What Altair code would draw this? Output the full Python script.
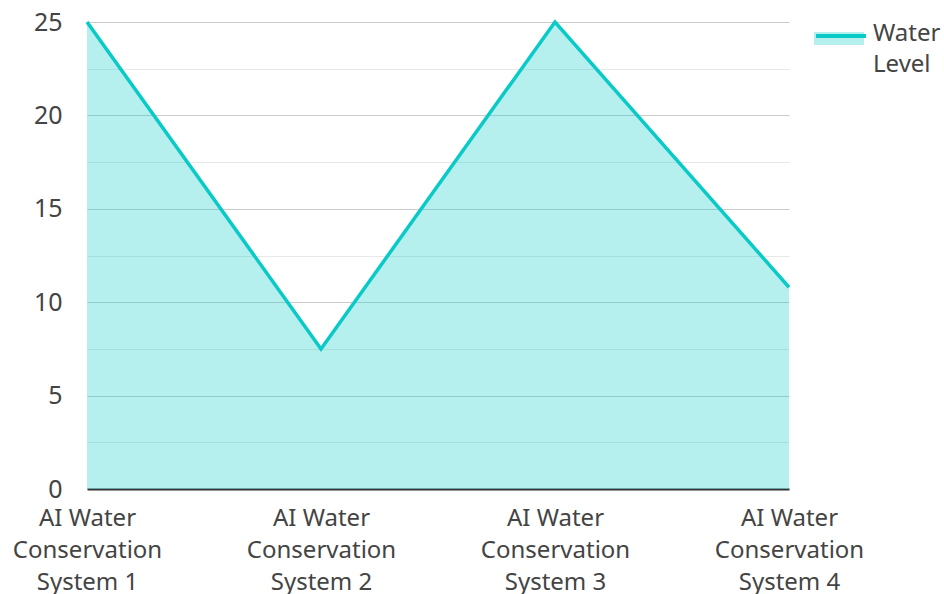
import altair as alt
import pandas as pd

categories = [
    "AI Water Conservation System 1",
    "AI Water Conservation System 2",
    "AI Water Conservation System 3",
    "AI Water Conservation System 4",
]
values = [25, 7.5, 25, 10.8]
series = ["Water Level"] * 4
y_ticks = [0, 2.5, 5, 7.5, 10, 12.5, 15, 17.5, 20, 22.5, 25]

df = pd.DataFrame({"system": categories, "value": values, "series": series})

FONT = "Noto Sans"
TEAL = "#0ACAC8"
TEXT = "#444444"

x_enc = alt.X(
    "system:N",
    sort=categories,
    scale=alt.Scale(type="point", padding=0),
    axis=alt.Axis(
        title=None,
        labelAngle=0,
        labelFont=FONT,
        labelFontSize=24,
        labelColor=TEXT,
        labelLineHeight=32,
        labelBaseline="top",
        labelPadding=17,
        labelExpr="[slice(datum.label,0,8), slice(datum.label,9,21), slice(datum.label,22)]",
        ticks=False,
        domainColor="#333333",
        domainWidth=2,
        grid=False,
        labelOverlap=False,
        labelLimit=300,
    ),
)

y_enc = alt.Y(
    "value:Q",
    scale=alt.Scale(domain=[0, 25], nice=False),
    axis=alt.Axis(
        title=None,
        values=y_ticks,
        labelExpr="datum.value % 5 === 0 ? datum.label : ''",
        labelFont=FONT,
        labelFontSize=25,
        labelColor=TEXT,
        labelPadding=25,
        ticks=False,
        domain=False,
        grid=True,
        gridColor={"condition": {"test": "datum.value % 5 === 0", "value": "#cccccc"}, "value": "#e8e8e8"},
        gridWidth=1,
    ),
)

area = alt.Chart(df).mark_area(fillOpacity=0.3, interpolate="linear").encode(
    x=x_enc,
    y=y_enc,
    fill=alt.Fill(
        "series:N",
        scale=alt.Scale(range=[TEAL]),
        legend=alt.Legend(
            title=None,
            orient="none",
            legendX=727,
            legendY=-13,
            symbolType="M-1,-0.08H1V0.44H-1Z",
            symbolSize=2500,
            symbolOpacity=0.3,
            symbolStrokeWidth=0,
            labelFont=FONT,
            labelFontSize=24,
            labelColor=TEXT,
            labelOffset=9,
            labelExpr="split(datum.label, ' ')",
        ),
    ),
)

line = alt.Chart(df).mark_line(strokeWidth=3.5, interpolate="linear").encode(
    x=x_enc,
    y=y_enc,
    stroke=alt.Stroke(
        "series:N",
        scale=alt.Scale(range=[TEAL]),
        legend=alt.Legend(
            title=None,
            orient="none",
            legendX=727,
            legendY=-13,
            symbolType="M-1,0H1",
            symbolSize=2500,
            symbolStrokeWidth=4,
            labelFont=FONT,
            labelFontSize=24,
            labelColor=TEXT,
            labelOffset=9,
            labelExpr="''",
        ),
    ),
)

chart = (
    alt.layer(area, line)
    .resolve_legend(fill="independent", stroke="independent")
    .properties(
        width=702,
        height=467,
        autosize=alt.AutoSizeParams(type="none"),
        padding={"left": 87, "top": 22, "right": 155, "bottom": 105},
    )
    .configure(style={"guide-label": {"lineHeight": 31}})
    .configure_view(stroke=None)
)

chart.save("out.html", embed_options={"renderer": "svg", "actions": False})
